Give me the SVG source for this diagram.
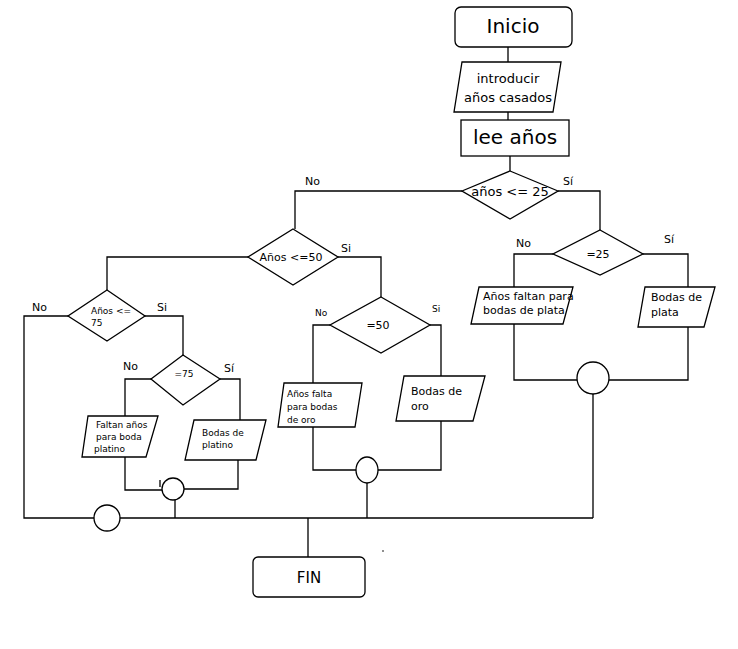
<svg xmlns="http://www.w3.org/2000/svg" width="738" height="649" viewBox="0 0 738 649">
<style>
.s{fill:#fff;stroke:#000;stroke-width:1.3}
.l{fill:none;stroke:#000;stroke-width:1.3}
text{font-family:"DejaVu Sans","Liberation Sans",sans-serif;fill:#000}
.b{font-size:20px}.m{font-size:15px}.k{font-size:13px}.n{font-size:11px}.t{font-size:9px}
</style>
<rect width="738" height="649" fill="#fff"/>
<g id="connectors" class="l">
<path d="M508,47V62M508,112V120M510,156V171"/>
<path d="M462,191H295V229M338,257H381V297M330,325H313V383M430,325H441V376"/>
<path d="M313,427V470H356M441,421V470H378M367,483V518"/>
<path d="M558,191H600V230M553,254H514V287M643,254H688V287"/>
<path d="M514,324V380H577M688,327V380H609M593,394V518"/>
<path d="M248,257H107V290M68,316H24V518H593M145,316H183V355M151,379H125V416M220,379H240V420"/>
<path d="M125,457V490H162M238,460V489H184M175,500V518M160,480V487M308,518V557"/>
</g>
<g id="inicio"><rect class="s" x="455" y="7" width="117" height="40" rx="6"/><text class="b" x="513" y="33" text-anchor="middle">Inicio</text></g>
<g id="introducir"><polygon class="s" points="462,62 561,62 553,112 454,112"/><text class="k" x="508" y="83" text-anchor="middle">introducir</text><text class="k" x="508" y="102" text-anchor="middle">años casados</text></g>
<g id="lee"><rect class="s" x="461" y="120" width="108" height="36"/><text class="b" x="515" y="144" text-anchor="middle">lee años</text></g>
<g id="d25"><polygon class="s" points="510,171 558,191 510,219 462,191"/><text class="k" x="510" y="196" text-anchor="middle">años &lt;= 25</text></g>
<g id="d50"><polygon class="s" points="293,229 338,257 293,285 248,257"/><text class="n" x="291" y="261" text-anchor="middle">Años &lt;=50</text></g>
<g id="e50"><polygon class="s" points="381,297 430,325 381,353 330,325"/><text class="n" x="378" y="329" text-anchor="middle">=50</text></g>
<g id="p50"><polygon class="s" points="284,383 362,383 355,427 278,427"/><text class="t" x="287" y="397">Años falta</text><text class="t" x="287" y="410">para bodas</text><text class="t" x="287" y="423">de oro</text></g>
<g id="oro"><polygon class="s" points="404,376 485,376 473,421 396,421"/><text class="n" x="411" y="395">Bodas de</text><text class="n" x="411" y="410">oro</text></g>
<g id="c50"><ellipse class="s" cx="367" cy="470" rx="11" ry="13"/></g>
<g id="e25"><polygon class="s" points="600,230 643,254 600,275 553,254"/><text class="n" x="598" y="258" text-anchor="middle">=25</text></g>
<g id="p25"><polygon class="s" points="479,287 573,287 563,324 471,324"/><text class="n" x="483" y="300">Años faltan para</text><text class="n" x="483" y="314">bodas de plata</text></g>
<g id="plata"><polygon class="s" points="645,287 715,287 704,327 638,327"/><text class="n" x="651" y="301">Bodas de</text><text class="n" x="651" y="316">plata</text></g>
<g id="c25"><circle class="s" cx="593" cy="378" r="16"/></g>
<g id="d75"><polygon class="s" points="107,290 145,316 107,341 68,316"/><text class="t" x="91" y="314">Años &lt;=</text><text class="t" x="91" y="326">75</text></g>
<g id="e75"><polygon class="s" points="183,355 220,379 183,405 151,379"/><text class="t" x="184" y="377" text-anchor="middle">=75</text></g>
<g id="p75"><polygon class="s" points="88,416 158,416 146,457 82,457"/><text class="t" x="96" y="428">Faltan años</text><text class="t" x="96" y="440">para boda</text><text class="t" x="94" y="452">platino</text></g>
<g id="platino"><polygon class="s" points="194,420 266,420 256,460 185,460"/><text class="t" x="202" y="436">Bodas de</text><text class="t" x="202" y="448">platino</text></g>
<g id="c75"><circle class="s" cx="173" cy="489" r="11"/></g>
<g id="cmain"><circle class="s" cx="107" cy="518" r="13"/></g>
<g id="fin"><rect class="s" x="253" y="557" width="112" height="40" rx="5"/><text class="m" x="309" y="583" text-anchor="middle">FIN</text></g>
<g id="labels" class="n">
<text x="305" y="185">No</text><text x="563" y="185">Sí</text>
<text x="341" y="252">Si</text><text x="315" y="316" class="t">No</text><text x="432" y="312" class="t">Si</text>
<text x="516" y="247">No</text><text x="664" y="243">Sí</text>
<text x="32" y="311">No</text><text x="157" y="311">Si</text>
<text x="123" y="370">No</text><text x="224" y="372">Sí</text>
</g>
<circle cx="383" cy="551" r="0.8" fill="#000"/>
</svg>
